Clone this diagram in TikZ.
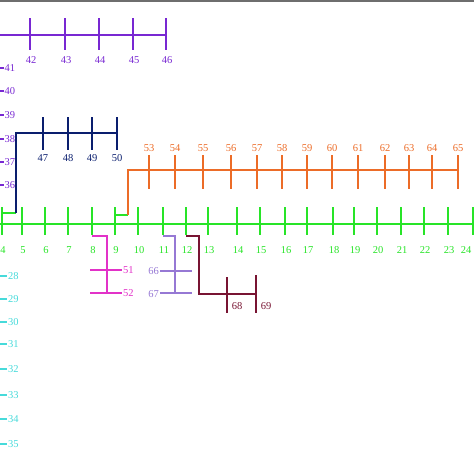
\documentclass[tikz,border=0pt]{standalone}
\usepackage{fontspec}
\setmainfont{Liberation Serif}
\definecolor{cgreen}{RGB}{40,228,40}
\definecolor{corange}{RGB}{236,108,40}
\definecolor{cpurple}{RGB}{120,40,210}
\definecolor{cnavy}{RGB}{10,30,110}
\definecolor{ccyan}{RGB}{70,218,218}
\definecolor{cmagenta}{RGB}{226,50,200}
\definecolor{clav}{RGB}{150,120,212}
\definecolor{cmaroon}{RGB}{120,20,50}
\definecolor{cbar}{RGB}{110,110,110}
\tikzset{
  lbl/.style={font=\fontsize{10.5}{12}\selectfont, inner sep=0pt},
  wire/.style={line width=1.4pt},
}
\begin{document}
\begin{tikzpicture}[x=1pt,y=-1pt]
\useasboundingbox (0,0) rectangle (474,474);
\clip (0,0) rectangle (474,474);
\fill[cbar] (0,0) rectangle (474,2);

% ---- main feeder (green)
\coordinate (gL) at (0,224);
\coordinate (gR) at (474,224);
\draw[wire,cgreen] (gL) -- (gR);
\foreach \xx/\n in {2/4,22/5,45/6,68/7,92/8,115/9,138/10,163/11,186/12,208/13,237/14,260/15,285/16,307/17,333/18,354/19,377/20,401/21,424/22,448/23,473/24} {
  \coordinate (gt\n) at (\xx,207);
  \coordinate (gb\n) at (\xx,235);
  \draw[wire,cgreen] (gt\n) -- (gb\n);
}
\foreach \xx/\n in {3/4,23/5,46/6,69/7,93/8,116/9,139/10,164/11,187/12,209/13,238/14,261/15,286/16,308/17,334/18,355/19,378/20,402/21,425/22,449/23,466/24} {
  \node[lbl,text=cgreen] (gl\n) at (\xx,250) {\n};
}

% ---- navy lateral (bus 4 -> 47..50)
\coordinate (n0) at (2,213);
\coordinate (n1) at (16,213);
\coordinate (n2) at (16,133);
\coordinate (n3) at (117,133);
\draw[wire,cgreen] (n0) -- (n1);
\draw[wire,cnavy] (n1) -- (n2) -- (n3);
\foreach \xx/\n in {43/47,68/48,92/49,117/50} {
  \coordinate (nt\n) at (\xx,117);
  \coordinate (nb\n) at (\xx,150);
  \draw[wire,cnavy] (nt\n) -- (nb\n);
  \node[lbl,text=cnavy] (nl\n) at (\xx,158) {\n};
}

% ---- orange lateral (bus 9 -> 53..65)
\coordinate (o0) at (115,215);
\coordinate (o1) at (128,215);
\coordinate (o2) at (128,170);
\coordinate (o3) at (458,170);
\draw[wire,cgreen] (o0) -- (o1);
\draw[wire,corange] (o1) -- (o2) -- (o3);
\foreach \xx/\n in {149/53,175/54,203/55,231/56,257/57,282/58,307/59,332/60,358/61,385/62,409/63,432/64,458/65} {
  \coordinate (ot\n) at (\xx,155);
  \coordinate (ob\n) at (\xx,189);
  \draw[wire,corange] (ot\n) -- (ob\n);
  \node[lbl,text=corange] (ol\n) at (\xx,148) {\n};
}

% ---- purple top lateral (42..46)
\coordinate (p0) at (0,35);
\coordinate (p1) at (166,35);
\draw[wire,cpurple] (p0) -- (p1);
\foreach \xx/\n in {30/42,65/43,99/44,133/45,166/46} {
  \coordinate (pt\n) at (\xx,18);
  \coordinate (pb\n) at (\xx,50);
  \draw[wire,cpurple] (pt\n) -- (pb\n);
  \node[lbl,text=cpurple] (pl\n) at (\xx+1,60) {\n};
}

% ---- purple left labels (36..41)
\foreach \yy/\n in {68/41,91/40,115/39,139/38,162/37,185/36} {
  \coordinate (ps\n) at (0,\yy);
  \coordinate (pe\n) at (4,\yy);
  \draw[wire,cpurple] (ps\n) -- (pe\n);
  \node[lbl,text=cpurple,anchor=west] (pll\n) at (4.5,\yy) {\n};
}

% ---- cyan left labels (28..35)
\foreach \yy/\n in {276/28,299/29,322/30,344/31,369/32,395/33,419/34,444/35} {
  \coordinate (cs\n) at (0,\yy);
  \coordinate (ce\n) at (7,\yy);
  \draw[wire,ccyan] (cs\n) -- (ce\n);
  \node[lbl,text=ccyan,anchor=west] (cl\n) at (8,\yy) {\n};
}

% ---- magenta lateral (bus 8 -> 51,52)
\coordinate (m0) at (92,236);
\coordinate (m1) at (107,236);
\coordinate (m2) at (107,293);
\draw[line width=1.8pt,cmagenta] (m0) -- (m1) -- (m2);
\coordinate (m51a) at (90,270); \coordinate (m51b) at (122,270);
\coordinate (m52a) at (90,293); \coordinate (m52b) at (122,293);
\draw[line width=1.8pt,cmagenta] (m51a) -- (m51b);
\draw[line width=1.8pt,cmagenta] (m52a) -- (m52b);
\node[lbl,text=cmagenta,anchor=west] (ml51) at (123,270) {51};
\node[lbl,text=cmagenta,anchor=west] (ml52) at (123,293) {52};

% ---- lavender lateral (bus 11 -> 66,67)
\coordinate (v0) at (163,236);
\coordinate (v1) at (175,236);
\coordinate (v2) at (175,293);
\draw[line width=1.1pt,clav] (v0) -- (v1) -- (v2);
\coordinate (v66a) at (160,271); \coordinate (v66b) at (192,271);
\coordinate (v67a) at (160,293); \coordinate (v67b) at (192,293);
\draw[line width=1.1pt,clav] (v66a) -- (v66b);
\draw[line width=1.1pt,clav] (v67a) -- (v67b);
\node[lbl,text=clav,anchor=east] (vl66) at (159,271) {66};
\node[lbl,text=clav,anchor=east] (vl67) at (159,294) {67};

% ---- maroon lateral (bus 12 -> 68,69)
\coordinate (r0) at (186,236);
\coordinate (r1) at (199,236);
\coordinate (r2) at (199,294);
\coordinate (r3) at (256,294);
\draw[wire,cmaroon] (r0) -- (r1) -- (r2) -- (r3);
\coordinate (rt68) at (227,277); \coordinate (rb68) at (227,313);
\coordinate (rt69) at (256,275); \coordinate (rb69) at (256,313);
\draw[wire,cmaroon] (rt68) -- (rb68);
\draw[line width=2pt,cmaroon] (rt69) -- (rb69);
\node[lbl,text=cmaroon] (rl68) at (237,306) {68};
\node[lbl,text=cmaroon] (rl69) at (266,306) {69};
\end{tikzpicture}
\end{document}
